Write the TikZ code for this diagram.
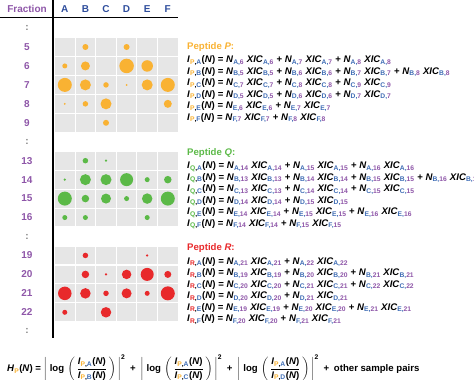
\documentclass[tikz,border=0pt]{standalone}
\usepackage{fontspec}
\setmainfont{Liberation Sans}
\usepackage{amsmath}
\definecolor{colP}{HTML}{F9B233}
\definecolor{colQ}{HTML}{5BB947}
\definecolor{colR}{HTML}{E8292B}
\definecolor{colS}{HTML}{3F6DB5}
\definecolor{colF}{HTML}{8E56A8}
\definecolor{colH}{HTML}{2E4D9C}
\definecolor{cellgray}{HTML}{E6E6E6}
\newcommand{\Iv}[3]{\textit{I}\textsubscript{\textcolor{#1}{#2},\textcolor{colS}{#3}}(\textit{N})}
\newcommand{\NX}[2]{\textit{N}\textsubscript{\textcolor{colS}{#1,}\textcolor{colF}{#2}} \textit{XIC}\textsubscript{\textcolor{colS}{#1,}\textcolor{colF}{#2}}}
\newcommand{\Hterm}[1]{$\left|\;\text{log}\,\left(\,\dfrac{\text{\Iv{colP}{P}{A}}}{\text{\Iv{colP}{P}{#1}}}\,\right)\,\right|^{\text{2}}$}
\tikzset{
  rowlab/.style={font=\bfseries\fontsize{10}{12}\selectfont, text=colF},
  dotlab/.style={font=\bfseries\fontsize{10}{12}\selectfont, text=gray},
  collab/.style={font=\bfseries\fontsize{10}{12}\selectfont, text=colH},
  pephead/.style={anchor=west, font=\bfseries\fontsize{9.6}{11}\selectfont, inner sep=0pt},
  eqline/.style={anchor=west, font=\bfseries\fontsize{9.6}{11}\selectfont, inner sep=0pt},
  axis/.style={line width=1.3pt, black},
}
\begin{document}
\begin{tikzpicture}[x=1pt,y=-1pt]
\useasboundingbox (0,0) rectangle (474,380);
% cells
\foreach \k in {0,...,4,6,7,8,9,11,12,13,14}{
  \foreach \c in {0,...,5}{
    \fill[cellgray] ({55+20.6*\c},{47+18.95*\k-8.9}) rectangle +(19.6,17.8);
  }
}
% axes
\coordinate (vt) at (53,0); \coordinate (vb) at (53,338);
\coordinate (hl) at (0,17.5); \coordinate (hr) at (178,17.5);
\draw[axis] (vt) -- (vb);
\draw[line width=1pt] (hl) -- (hr);
% header
\node[rowlab] (frac) at (27,9) {Fraction};
\foreach \L [count=\i from 0] in {A,B,C,D,E,F}{
  \node[collab] (col\L) at ({64.8+20.6*\i},9) {\L};
}
% row labels
\foreach \n/\k in {5/0,6/1,7/2,8/3,9/4,13/6,14/7,15/8,16/9,19/11,20/12,21/13,22/14}{
  \node[rowlab] (row\n) at (27,{47+18.95*\k}) {\n};
}
\foreach \k [count=\j] in {-1,5,10,15}{
  \node[dotlab] (dots\j) at (27,{47+18.95*\k}) {:};
}
% circles
\foreach \k/\c/\d/\col in {
  0/1/6/colP,0/3/6/colP,
  1/0/5/colP,1/1/9/colP,1/3/14.5/colP,1/4/11.5/colP,
  2/0/14/colP,2/1/11/colP,2/2/5.5/colP,2/3/2/colP,2/4/11/colP,2/5/14/colP,
  3/0/2/colP,3/1/5.5/colP,3/2/11/colP,3/5/8/colP,
  4/2/6/colP,
  6/1/5.5/colQ,6/2/2.5/colQ,
  7/0/2.5/colQ,7/1/11/colQ,7/2/11/colQ,7/3/13/colQ,7/4/5/colQ,7/5/7.5/colQ,
  8/0/14/colQ,8/1/7.5/colQ,8/2/10/colQ,8/3/5/colQ,8/4/10.5/colQ,8/5/14/colQ,
  9/0/5/colQ,9/1/5/colQ,9/4/5/colQ,
  11/1/5.5/colR,11/4/2.5/colR,
  12/1/7.5/colR,12/2/2.5/colR,12/3/9.5/colR,12/4/13/colR,12/5/7/colR,
  13/0/13.5/colR,13/1/10.5/colR,13/2/5.5/colR,13/3/10/colR,13/4/5/colR,13/5/14/colR,
  14/0/5/colR,14/2/10.5/colR}{
  \fill[\col] ({64.8+20.6*\c},{47+18.95*\k}) circle[radius=\d/2*1pt];
}
% Peptide P
\node[pephead, text=colP] (hP) at (187,47.5) {Peptide \textit{P}:};
\node[eqline] (pA) at (187,60.5) {\Iv{colP}{P}{A} = \NX{A}{6} + \NX{A}{7} + \NX{A}{8}};
\node[eqline] (pB) at (187,72) {\Iv{colP}{P}{B} = \NX{B}{5} + \NX{B}{6} + \NX{B}{7} + \NX{B}{8}};
\node[eqline] (pC) at (187,83.5) {\Iv{colP}{P}{C} = \NX{C}{7} + \NX{C}{8} + \NX{C}{9}};
\node[eqline] (pD) at (187,95) {\Iv{colP}{P}{D} = \NX{D}{5} + \NX{D}{6} + \NX{D}{7}};
\node[eqline] (pE) at (187,106.5) {\Iv{colP}{P}{E} = \NX{E}{6} + \NX{E}{7}};
\node[eqline] (pF) at (187,118) {\Iv{colP}{P}{F} = \NX{F}{7} + \NX{F}{8}};
% Peptide Q
\node[pephead, text=colQ] (hQ) at (187,153) {Peptide \textit{Q}:};
\node[eqline] (qA) at (187,166.5) {\Iv{colQ}{Q}{A} = \NX{A}{14} + \NX{A}{15} + \NX{A}{16}};
\node[eqline] (qB) at (187,178) {\Iv{colQ}{Q}{B} = \NX{B}{13} + \NX{B}{14} + \NX{B}{15} + \NX{B}{16}};
\node[eqline] (qC) at (187,189.5) {\Iv{colQ}{Q}{C} = \NX{C}{13} + \NX{C}{14} + \NX{C}{15}};
\node[eqline] (qD) at (187,201) {\Iv{colQ}{Q}{D} = \NX{D}{14} + \NX{D}{15}};
\node[eqline] (qE) at (187,212.5) {\Iv{colQ}{Q}{E} = \NX{E}{14} + \NX{E}{15} + \NX{E}{16}};
\node[eqline] (qF) at (187,224) {\Iv{colQ}{Q}{F} = \NX{F}{14} + \NX{F}{15}};
% Peptide R
\node[pephead, text=colR] (hR) at (187,248) {Peptide \textit{R}:};
\node[eqline] (rA) at (187,262) {\Iv{colR}{R}{A} = \NX{A}{21} + \NX{A}{22}};
\node[eqline] (rB) at (187,273.5) {\Iv{colR}{R}{B} = \NX{B}{19} + \NX{B}{20} + \NX{B}{21}};
\node[eqline] (rC) at (187,285) {\Iv{colR}{R}{C} = \NX{C}{20} + \NX{C}{21} + \NX{C}{22}};
\node[eqline] (rD) at (187,296.5) {\Iv{colR}{R}{D} = \NX{D}{20} + \NX{D}{21}};
\node[eqline] (rE) at (187,308) {\Iv{colR}{R}{E} = \NX{E}{19} + \NX{E}{20} + \NX{E}{21}};
\node[eqline] (rF) at (187,319.5) {\Iv{colR}{R}{F} = \NX{F}{20} + \NX{F}{21}};
% bottom formula
\node[anchor=west, inner sep=0pt, font=\bfseries\fontsize{9.6}{11}\selectfont] (H) at (7,368)
 {\textit{H}\textsubscript{\textcolor{colP}{P}}(\textit{N}) = \Hterm{B}\enspace+\enspace\Hterm{C}\enspace+\enspace\Hterm{D}\enspace+\enspace other sample pairs};
\end{tikzpicture}
\end{document}
